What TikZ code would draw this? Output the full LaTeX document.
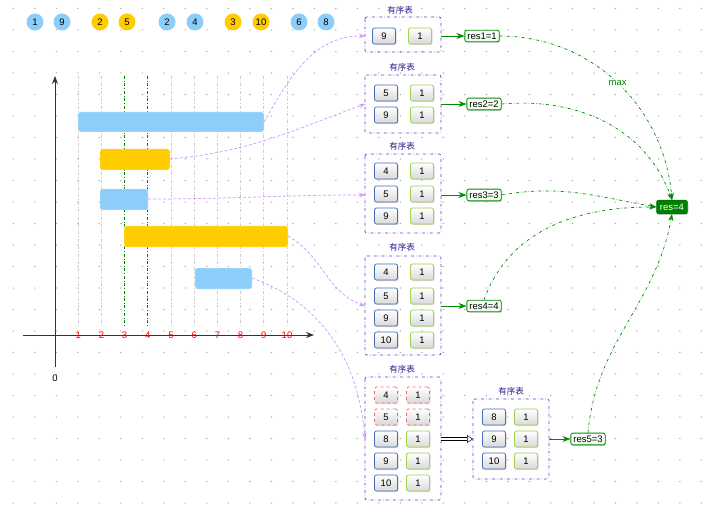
\documentclass[tikz,border=0pt]{standalone}
\usepackage{fontspec}
\setmainfont{Liberation Sans}
\newfontfamily\cjk{Noto Sans CJK SC}
\usetikzlibrary{arrows.meta,shadows}
\begin{document}
\begin{tikzpicture}[x=1pt,y=-1pt,font=\fontsize{9.5}{11}\selectfont,
  circ/.style={circle,minimum size=17pt,inner sep=0pt,draw=none},
  cb/.style={circ,fill={rgb,255:red,140;green,205;blue,250}},
  co/.style={circ,fill={rgb,255:red,255;green,204;blue,0}},
  bar/.style={rounded corners=2pt,draw=white},
  cell/.style={rounded corners=2pt,minimum width=23pt,minimum height=16pt,inner sep=0pt,top color=white,bottom color=gray!30,drop shadow={opacity=0.3,shadow xshift=1pt,shadow yshift=-1pt},line width=0.8pt},
  key/.style={cell,draw={rgb,255:red,70;green,110;blue,190}},
  val/.style={cell,draw={rgb,255:red,160;green,210;blue,80}},
  del/.style={cell,draw=red!60,dashed},
  tbl/.style={draw={rgb,255:red,90;green,70;blue,200},dash dot,rounded corners=2pt,line width=0.7pt},
  ttl/.style={font=\cjk\fontsize{8.5}{9}\selectfont,text={rgb,255:red,40;green,30;blue,140}},
  res/.style={draw=green!55!black,line width=0.8pt,rounded corners=2pt,top color=white,bottom color=green!8,inner sep=2.5pt,drop shadow={opacity=0.3,shadow xshift=1pt,shadow yshift=-1pt}},
  pa/.style={-{Stealth[length=6pt]},draw={rgb,255:red,210;green,150;blue,255},densely dashed,line width=0.7pt},
  ga/.style={-{Stealth[length=8pt]},draw=green!55!black,line width=0.7pt},
  gc/.style={-{Stealth[length=7pt]},draw=green!55!black,dash dot,line width=0.7pt}]
\useasboundingbox (0,0) rectangle (720,513);
\fill[white] (0,0) rectangle (720,513);
\foreach \i in {0,...,33}{\foreach \j in {0,...,23}{\fill[gray!70] (13.3+21.5*\i,8.5+21.5*\j) circle (0.7pt);}}
\foreach \x/\t in {35/1,62/9,167/2,195/4,299/6,326/8}{\node[cb] (c\t\x) at (\x,22) {\t};}
\foreach \x/\t in {100/2,127/5,233/3,261/10}{\node[co] (o\t\x) at (\x,22) {\t};}
\foreach \k in {1,2,5,6,7,8,9,10}{\draw[gray!40,dash dot,line width=0.7pt] ({55+23.2*\k},76) -- ({55+23.2*\k},326);}
\foreach \k in {3,4}{\draw[green!50!black,dash dot,line width=0.7pt] ({55+23.2*\k},76) -- ({55+23.2*\k},326);}
\draw[bar,fill={rgb,255:red,140;green,205;blue,250}] (78,112) rectangle (264,132);
\draw[bar,fill={rgb,255:red,255;green,204;blue,0}] (100,149) rectangle (170,170);
\draw[bar,fill={rgb,255:red,140;green,205;blue,250}] (100,189) rectangle (148,210);
\draw[bar,fill={rgb,255:red,255;green,204;blue,0}] (124,226) rectangle (288,247);
\draw[bar,fill={rgb,255:red,140;green,205;blue,250}] (195,268) rectangle (252,289);
\coordinate (b1) at (264,122); \coordinate (b2) at (170,159); \coordinate (b3) at (148,199);
\coordinate (b4) at (288,236); \coordinate (b5) at (252,278);
\draw[gray!40!black,line width=1pt,-{Stealth[length=8pt]}] (23,335) -- (314,335);
\draw[gray!40!black,line width=1pt,-{Stealth[length=8pt]}] (55,367) -- (55,76);
\node at (55,378) {0};
\foreach \k in {1,...,10}{\node[text=red] at ({55+23.2*\k},335) {\k};}
\draw[tbl] (365,17) rectangle (441,52); \node[ttl] at (400,10) {有序表};
\coordinate (t1) at (365,36);
\node[key] (k11) at (384,36) {9}; \node[val] (v11) at (420,36) {1};
\draw[tbl] (365,75) rectangle (441,133); \node[ttl] at (402,67) {有序表};
\coordinate (t2) at (365,104);
\node[key] at (386,93) {5}; \node[val] at (422,93) {1};
\node[key] at (386,115) {9}; \node[val] at (422,115) {1};
\draw[tbl] (365,154) rectangle (441,233); \node[ttl] at (402,146) {有序表};
\coordinate (t3) at (365,195);
\foreach \y/\t in {171/4,194/5,216/9}{\node[key] at (386,\y) {\t}; \node[val] at (422,\y) {1};}
\draw[tbl] (365,256) rectangle (441,355); \node[ttl] at (402,247) {有序表};
\coordinate (t4) at (365,306);
\foreach \y/\t in {272/4,296/5,318/9,340/10}{\node[key] at (386,\y) {\t}; \node[val] at (422,\y) {1};}
\draw[tbl] (365,377) rectangle (441,500); \node[ttl] at (402,369) {有序表};
\coordinate (t5) at (365,439);
\foreach \y/\t in {395/4,417/5}{\node[del] at (386,\y) {\t}; \node[del] at (418,\y) {1};}
\foreach \y/\t in {439/8,461/9,483/10}{\node[key] at (386,\y) {\t}; \node[val] at (418,\y) {1};}
\draw[tbl] (473,399) rectangle (549,479); \node[ttl] at (511,391) {有序表};
\coordinate (t6l) at (473,439); \coordinate (t5r) at (441,439); \coordinate (t6r) at (549,439);
\foreach \y/\t in {417/8,439/9,461/10}{\node[key] at (494,\y) {\t}; \node[val] at (526,\y) {1};}
\node[res] (r1) at (482,36) {res1=1};
\node[res] (r2) at (484,104) {res2=2};
\node[res] (r3) at (484,195) {res3=3};
\node[res] (r4) at (484,306) {res4=4};
\node[res] (r5) at (588,439) {res5=3};
\node[draw=green!40!black,fill=green!50!black,text=white,rounded corners=2pt,inner sep=3.5pt,drop shadow={opacity=0.3,shadow xshift=1pt,shadow yshift=-1pt}] (r) at (672,207) {res=4};
\coordinate (t1r) at (441,36); \coordinate (t2r) at (441,104); \coordinate (t3r) at (441,195); \coordinate (t4r) at (441,306);
\draw[ga] (t1r) -- (r1); \draw[ga] (t2r) -- (r2); \draw[ga] (t3r) -- (r3); \draw[ga] (t4r) -- (r4); \draw[ga] (t6r) -- (r5);
\draw[gc] (r1.east) to[out=0,in=95] node[pos=0.5,text=green!50!black,fill=white,inner sep=1pt] {max} (r.north);
\draw[gc] (r2.east) to[out=5,in=110] (r.north);
\draw[gc] (r3.east) to[out=10,in=170] (r.west);
\draw[gc] (r4.north) to[out=70,in=180] (r.west);
\draw[gc] (r5.north) to[out=85,in=-100] (r.south);
\draw[pa] (b1) to[out=60,in=180] (t1);
\draw[pa] (b2) to[out=5,in=200] (t2);
\draw[pa] (b3) to[out=0,in=180] (t3);
\draw[pa] (b4) to[out=-30,in=160] (t4);
\draw[pa] (b5) to[out=-20,in=95] (t5);
\draw[double,double distance=2.5pt,line width=0.5pt,-{Triangle[open,length=6pt,width=8pt]}] (t5r) -- (t6l);
\end{tikzpicture}
\end{document}
